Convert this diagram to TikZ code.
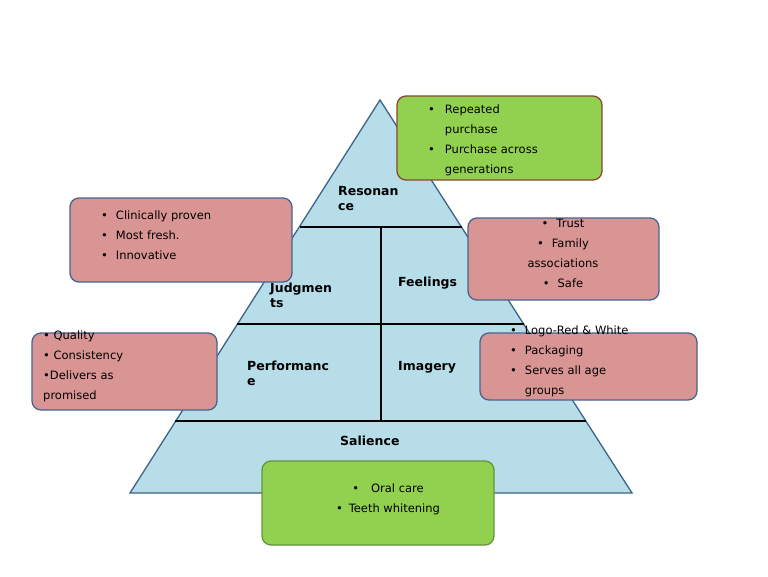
\documentclass[tikz,border=0pt]{standalone}
\usepackage{fontspec}
\setmainfont{DejaVu Sans}
\begin{document}
\begin{tikzpicture}[x=1pt,y=-1pt,
  lvl/.style={font=\fontsize{12.5}{15}\selectfont\bfseries,anchor=north west,inner sep=0pt,align=left},
  txt/.style={font=\fontsize{11.5}{20}\selectfont,inner sep=0pt,anchor=north west,align=left},
  pink/.style={fill=pinkc,draw=bluec,line width=1.3pt,rounded corners=9pt},
  green/.style={fill=greenc,draw=brownc,line width=1.3pt,rounded corners=9pt}]
\definecolor{tri}{RGB}{183,221,232}
\definecolor{trib}{RGB}{60,100,140}
\definecolor{pinkc}{RGB}{217,149,148}
\definecolor{bluec}{RGB}{70,100,145}
\definecolor{greenc}{RGB}{146,208,80}
\definecolor{brownc}{RGB}{140,70,50}
\definecolor{greenb}{RGB}{100,150,60}
\useasboundingbox (0,0) rectangle (768,576);
\fill[white] (0,0) rectangle (768,576);
\draw[fill=tri,draw=trib,line width=1.3pt] (380,100) -- (632,493) -- (130,493) -- cycle;
\draw[line width=1.3pt] (300,227) -- (462,227);
\draw[line width=1.3pt] (237,324) -- (524,324);
\draw[line width=1.3pt] (175,421) -- (586,421);
\draw[line width=1.3pt] (381,227) -- (381,421);
\node[lvl] (res) at (338,186) {Resonan\\ce};
\node[lvl] (jud) at (270,283) {Judgmen\\ts};
\node[lvl] (fee) at (398,277) {Feelings};
\node[lvl] (per) at (247,361) {Performanc\\e};
\node[lvl] (ima) at (398,361) {Imagery};
\node[lvl] (sal) at (340,436) {Salience};
% boxes
\draw[green] (397,96) rectangle (602,180);
\node[txt] (t1) at (428,105) {•\hspace{10pt}Repeated\\\hphantom{•\hspace{10pt}}purchase\\•\hspace{10pt}Purchase across\\\hphantom{•\hspace{10pt}}generations};
\draw[pink] (70,198) rectangle (292,282);
\node[txt] (t2) at (101,211) {•\hspace{8pt}Clinically proven\\•\hspace{8pt}Most fresh.\\•\hspace{8pt}Innovative};
\draw[pink] (468,218) rectangle (659,300);
\node[txt,anchor=north,align=center] (t3) at (563,219) {•\hspace{8pt}Trust\\•\hspace{8pt}Family\\associations\\•\hspace{8pt}Safe};
\draw[pink] (32,333) rectangle (217,410);
\node[txt] (t4) at (43,331) {• Quality\\• Consistency\\•Delivers as\\promised};
\draw[pink] (480,333) rectangle (697,400);
\node[txt] (t5) at (510,326) {•\hspace{8pt}Logo-Red \& White\\•\hspace{8pt}Packaging\\•\hspace{8pt}Serves all age\\\hphantom{•\hspace{8pt}}groups};
\draw[green,draw=greenb] (262,461) rectangle (494,545);
\node[txt,anchor=north,align=center] (t6) at (388,484) {•\hspace{12pt}Oral care\\•\hspace{6pt}Teeth whitening};
\end{tikzpicture}
\end{document}
